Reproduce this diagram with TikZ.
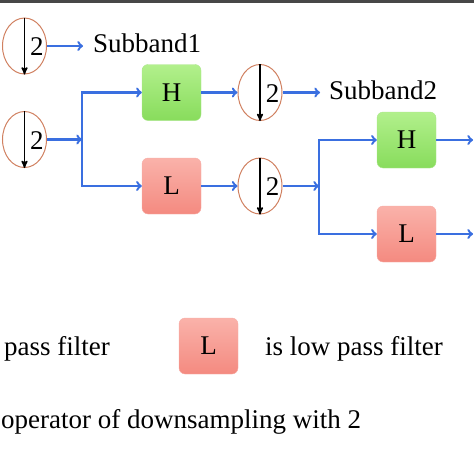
\documentclass[tikz,border=0pt]{standalone}
\usepackage{fontspec}
\setmainfont{Liberation Serif}
\newfontfamily\tms{Liberation Serif}
\usetikzlibrary{arrows,positioning,shapes.geometric}
\definecolor{hgtop}{HTML}{B2F08C}
\definecolor{hgbot}{HTML}{88DC5C}
\definecolor{lrtop}{HTML}{FAB2AA}
\definecolor{lrbot}{HTML}{F48A80}
\definecolor{ovline}{HTML}{D08060}
\definecolor{flow}{HTML}{3A6FE0}
\tikzset{
	boxnode/.style = {align=center, inner sep=0pt, rounded corners=6pt,
		minimum width=59pt, minimum height=56pt, font=\tms\fontsize{27}{32}\selectfont},
	filt_h/.style = {boxnode, top color=hgtop, bottom color=hgbot, draw=hgbot!70},% filtre passe haut
	filt_l/.style = {boxnode, top color=lrtop, bottom color=lrbot, draw=lrbot!70},% filtre passe bas
	down_e/.style = {ellipse, draw=ovline, line width=1pt,
		minimum width=44pt, minimum height=56pt, inner sep=0pt},% decimation par 2
	txt/.style = {inner sep=0pt, font=\tms\fontsize{27}{32}\selectfont},
	flowline/.style = {draw=flow, line width=2.4pt}
}

\begin{document}
\begin{tikzpicture}[x=1pt,y=-1pt,>=to]
\useasboundingbox (0,0) rectangle (474,474);
\clip (0,0) rectangle (474,474);
\fill[black!72] (0,0) rectangle (474,2.5);
% decimateurs
\foreach \n/\x/\y in {d1/24.5/46, d2/24.5/139.5, d3/260/92.5, d4/260/186}{
	\node [down_e] (\n) at (\x,\y) {};
	\draw [-stealth', line width=1.5pt] (\n.north) -- (\n.south);
	\node [txt] at ([xshift=12.5pt,yshift=-1pt]\n.center) {2};
}
% filtres
\node [filt_h] (h1) at (171.5,92.5) {H};
\node [filt_l] (l1) at (171.5,186) {L};
\node [filt_h] (h2) at (406.5,140) {H};
\node [filt_l] (l2) at (406.5,234) {L};
\node [txt, anchor=base west] (sb1) at (93,52) {Subband1};
\node [txt, anchor=base west] (sb2) at (329,99) {Subband2};
\coordinate (j1) at (82,139.5);
\coordinate (j2) at (319,186);
\coordinate (o1) at (473,140);
\coordinate (o2) at (473,234);
\draw [flowline,->] (d1.east) -- ([xshift=-10pt]sb1.west |- d1.east);
\draw [flowline,->] (d2.east) -- (j1);
\draw [flowline,->] (j1) |- (h1.west);
\draw [flowline,->] (j1) |- (l1.west);
\draw [flowline,->] (h1.east) -- (d3.west);
\draw [flowline,->] (l1.east) -- (d4.west);
\draw [flowline,->] (d3.east) -- ([xshift=-9pt]sb2.west |- d3.east);
\draw [flowline,->] (d4.east) -- (j2);
\draw [flowline,->] (j2) |- (h2.west);
\draw [flowline,->] (j2) |- (l2.west);
\draw [flowline,->] (h2.east) -- (o1);
\draw [flowline,->] (l2.east) -- (o2);
% legende
\node [txt, anchor=base west] (lgh) at (4,355) {pass filter};
\node [filt_l] (lgl) at (208.5,346) {L};
\node [txt, anchor=base west] (lgt) at (265,355) {is low pass filter};
\node [txt, anchor=base west] (lgd) at (1,428) {operator of downsampling with 2};
\end{tikzpicture}
\end{document}
